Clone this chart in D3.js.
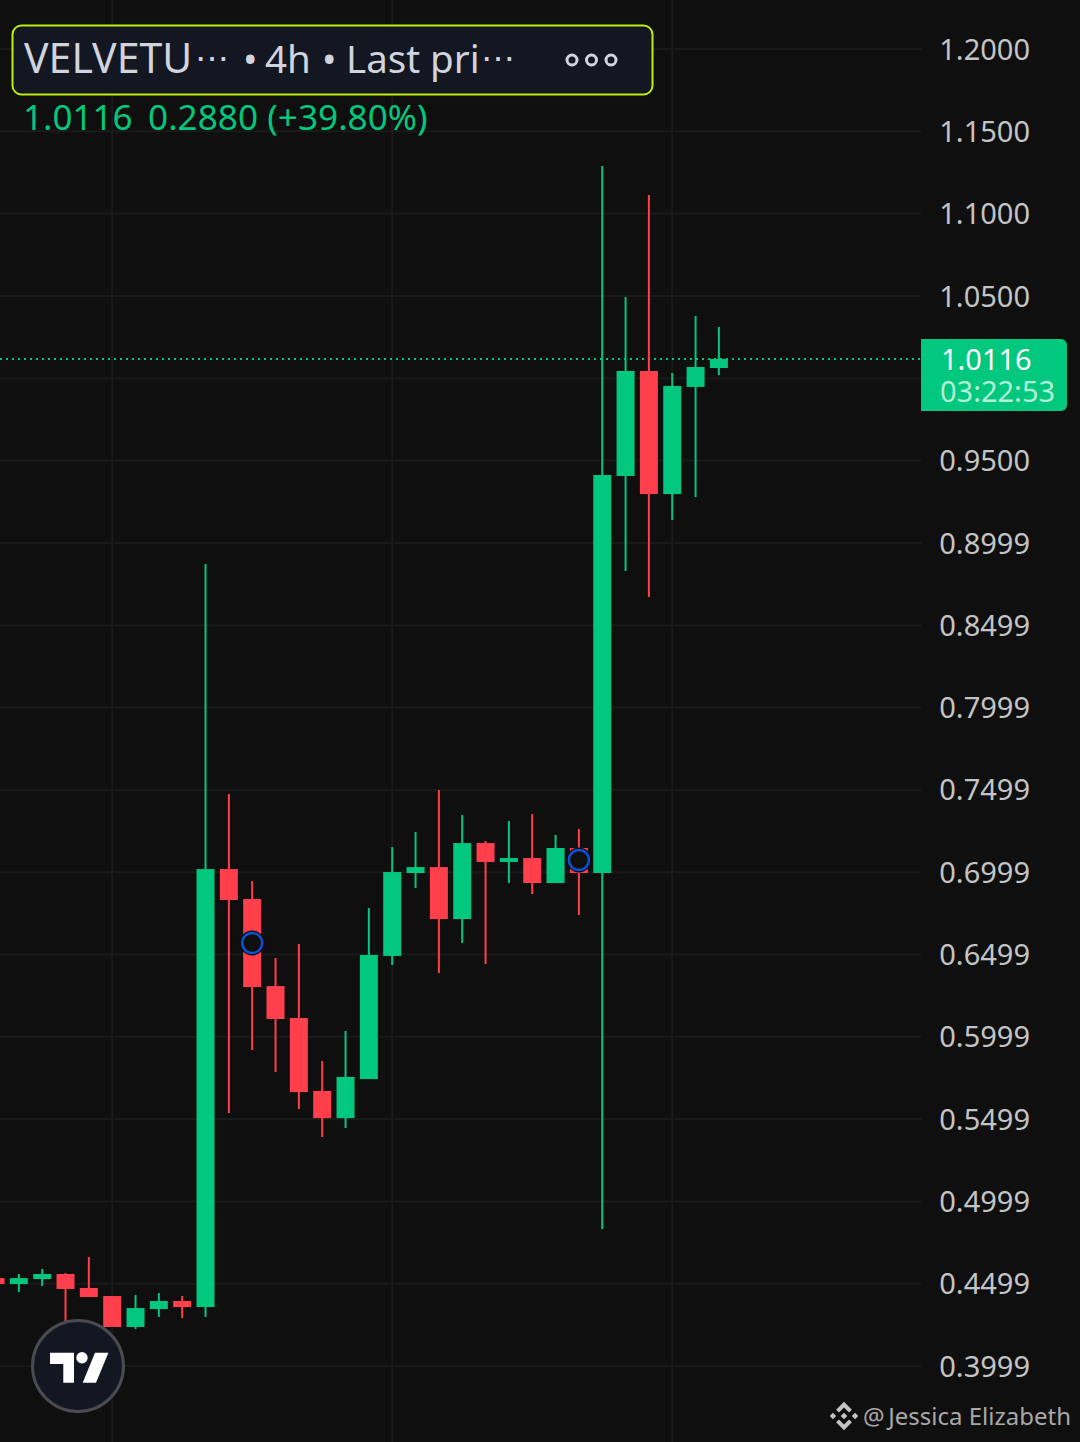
<!DOCTYPE html>
<html>
<head>
<meta charset="utf-8">
<script src="https://cdn.jsdelivr.net/npm/d3@7"></script>
<style>
  html, body { margin: 0; padding: 0; background: #0f0f0f; }
  svg { display: block; }
  text { font-family: "Noto Sans", sans-serif; }
</style>
</head>
<body>
<svg id="chart" width="1080" height="1442"></svg>
<script>
// candles, oldest first (4h bars)
const opens = [0.4533, 0.4497, 0.4527, 0.4558, 0.4473, 0.4424, 0.4236, 0.4345, 0.4394, 0.4357, 0.7018, 0.6836, 0.6307, 0.6113, 0.5670, 0.5505, 0.5742, 0.6490, 0.6994, 0.7030, 0.6714, 0.7176, 0.7061, 0.7085, 0.6933, 0.7146, 0.6994, 0.9406, 1.0044, 0.9296, 0.9947, 1.0062];
const highs = [0.4540, 0.4558, 0.4588, 0.4564, 0.4661, 0.4424, 0.4430, 0.4442, 0.4424, 0.8871, 0.7474, 0.6945, 0.6478, 0.6563, 0.5852, 0.6034, 0.6781, 0.7152, 0.7243, 0.7498, 0.7346, 0.7188, 0.7310, 0.7352, 0.7225, 0.7261, 1.1289, 1.0493, 1.1113, 1.0032, 1.0378, 1.0311];
const lows = [0.4490, 0.4448, 0.4485, 0.4260, 0.4418, 0.4236, 0.4224, 0.4297, 0.4290, 0.4297, 0.5536, 0.5919, 0.5785, 0.5560, 0.5390, 0.5445, 0.5742, 0.6435, 0.6903, 0.6386, 0.6569, 0.6441, 0.6933, 0.6866, 0.6933, 0.6739, 0.4831, 0.8829, 0.8671, 0.9139, 0.9278, 1.0019];
const closes = [0.4497, 0.4533, 0.4558, 0.4467, 0.4418, 0.4236, 0.4351, 0.4394, 0.4357, 0.7018, 0.6830, 0.6301, 0.6107, 0.5663, 0.5505, 0.5755, 0.6496, 0.7000, 0.7030, 0.6714, 0.7176, 0.7061, 0.7085, 0.6933, 0.7146, 0.6994, 0.9412, 1.0044, 0.9296, 0.9953, 1.0068, 1.0117];

const priceTicks = [1.2000, 1.1500, 1.1000, 1.0500, 1.0000, 0.9500, 0.8999, 0.8499, 0.7999, 0.7499, 0.6999, 0.6499, 0.5999, 0.5499, 0.4999, 0.4499, 0.3999];
const timeGrid = [5, 17, 29];
const markerBars = [11, 25];
const markerPrices = [0.6569, 0.7073];

const lastPrice = 1.0116;
const countdown = '03:22:53';
const titleParts = ['VELVETU', '\u2022', '4h', '\u2022', 'Last pri'];
const changeText = ['1.0116', '0.2880 (+39.80%)'];

const GREEN = '#02c77e';
const RED = '#ff3f4c';
const GRID = '#1a1a1a';
const AXIS_TEXT = '#c4c4c4';
const PANEL = '#131722';

const svg = d3.select('#chart');
svg.append('rect').attr('width', 1080).attr('height', 1442).attr('fill', '#0f0f0f');

const x = d3.scaleLinear().domain([0, 31]).range([-4.5, 718.9]);
const y = d3.scaleLinear().domain([0.3999, 1.2]).range([1366, 49]);
const plotRight = 921;
const bodyWidth = 18;

// grid
const grid = svg.append('g');
grid.selectAll('.h').data(priceTicks).join('line')
  .attr('x1', 0).attr('x2', plotRight)
  .attr('y1', d => y(d)).attr('y2', d => y(d))
  .attr('stroke', GRID).attr('stroke-width', 2);
grid.selectAll('.v').data(timeGrid).join('line')
  .attr('x1', d => x(d)).attr('x2', d => x(d))
  .attr('y1', 0).attr('y2', 1442)
  .attr('stroke', GRID).attr('stroke-width', 2);

// last price line sits under the candles
svg.append('line')
  .attr('x1', 0).attr('x2', plotRight)
  .attr('y1', y(lastPrice)).attr('y2', y(lastPrice))
  .attr('stroke', GREEN).attr('stroke-width', 2).attr('stroke-dasharray', '2 4');

// candles
const colour = i => closes[i] >= opens[i] ? GREEN : RED;
const candles = svg.append('g').selectAll('g').data(d3.range(opens.length)).join('g');
candles.append('rect')
  .attr('x', i => x(i) - 1).attr('width', 2)
  .attr('y', i => y(highs[i]))
  .attr('height', i => y(lows[i]) - y(highs[i]))
  .attr('fill', colour);
candles.append('rect')
  .attr('x', i => x(i) - bodyWidth / 2).attr('width', bodyWidth)
  .attr('y', i => y(Math.max(opens[i], closes[i])))
  .attr('height', i => Math.abs(y(opens[i]) - y(closes[i])))
  .attr('fill', colour);

// order markers, dark halo under the blue ring
const markers = svg.append('g').selectAll('g').data(markerBars).join('g')
  .attr('transform', (d, i) => `translate(${x(d)},${y(markerPrices[i])})`);
markers.append('circle').attr('r', 12.5).attr('fill', '#0a0a0a');
markers.append('circle').attr('r', 10)
  .attr('fill', '#0f0f0f')
  .attr('stroke', '#0c52d9').attr('stroke-width', 2.4);

// price axis
svg.append('g').selectAll('text')
  .data(priceTicks.filter(d => d !== 1.0))
  .join('text')
  .attr('x', 1030).attr('y', d => y(d) + 10.6)
  .attr('text-anchor', 'end')
  .attr('font-size', 29)
  .attr('fill', AXIS_TEXT)
  .text(d => d.toFixed(4));

// last price label
svg.append('path')
  .attr('d', 'M921,339H1061a6,6 0 0 1 6,6V405a6,6 0 0 1 -6,6H921Z')
  .attr('fill', GREEN);
svg.append('text').attr('x', 941).attr('y', 370)
  .attr('font-size', 29).attr('fill', '#ffffff')
  .text(lastPrice.toFixed(4));
svg.append('text').attr('x', 940).attr('y', 402)
  .attr('font-size', 29).attr('fill', '#b3f0d8')
  .text(countdown);

// title panel
svg.append('rect')
  .attr('x', 12.5).attr('y', 25.5).attr('width', 640).attr('height', 69).attr('rx', 9)
  .attr('fill', PANEL).attr('stroke', '#bdf000').attr('stroke-width', 2);
const titleX = [24, 243, 265, 322, 346];
svg.append('g').selectAll('text').data(titleParts).join('text')
  .attr('x', (d, i) => titleX[i]).attr('y', 73)
  .attr('font-size', (d, i) => i === 0 ? 41 : 38.5).attr('fill', '#d1d4dc')
  .text(d => d);
// truncated labels end in small raised dots
svg.append('g').selectAll('text').data([195, 481]).join('text')
  .attr('x', d => d).attr('y', 70)
  .attr('font-size', 34).attr('fill', '#d1d4dc')
  .text('\u22EF');
svg.append('g').selectAll('circle').data([572, 591.5, 611]).join('circle')
  .attr('cx', d => d).attr('cy', 60).attr('r', 5)
  .attr('fill', 'none').attr('stroke', '#d1d4dc').attr('stroke-width', 3);

svg.append('text').attr('x', 23).attr('y', 130)
  .attr('font-size', 35).attr('fill', GREEN).text(changeText[0]);
svg.append('text').attr('x', 148).attr('y', 130)
  .attr('font-size', 35.2).attr('fill', GREEN).text(changeText[1]);

// tradingview badge
const badge = svg.append('g');
badge.append('circle').attr('cx', 78).attr('cy', 1366).attr('r', 45.5)
  .attr('fill', PANEL).attr('stroke', '#4a4a50').attr('stroke-width', 3);
badge.append('path').attr('fill', '#ffffff')
  .attr('d', 'M50,1352.7H74V1382.7H63.3V1364H50Z');
badge.append('circle').attr('cx', 82).attr('cy', 1357.7).attr('r', 5.7).attr('fill', '#ffffff');
badge.append('path').attr('fill', '#ffffff')
  .attr('d', 'M95,1352.7H108.4L96,1382.7H82.7Z');

// watermark
const mark = svg.append('g').attr('transform', 'translate(844,1416) scale(1.05)').attr('fill', '#c4c4c4');
mark.append('path')
  .attr('d', 'M0,-13.5L7.5,-6L4.8,-3.3L0,-8.1L-4.8,-3.3L-7.5,-6Z');
mark.append('path')
  .attr('d', 'M0,13.5L7.5,6L4.8,3.3L0,8.1L-4.8,3.3L-7.5,6Z');
mark.append('path').attr('d', 'M0,-3.2L3.2,0L0,3.2L-3.2,0Z');
mark.append('path').attr('d', 'M-13.5,0L-10.5,-3L-7.5,0L-10.5,3Z');
mark.append('path').attr('d', 'M13.5,0L10.5,-3L7.5,0L10.5,3Z');
svg.append('text').attr('x', 863).attr('y', 1425)
  .attr('font-size', 24).attr('fill', '#a8a8a8')
  .text('@');
svg.append('text').attr('x', 1071).attr('y', 1425)
  .attr('text-anchor', 'end').attr('font-size', 24).attr('fill', '#a8a8a8')
  .text('Jessica Elizabeth');
</script>
</body>
</html>
